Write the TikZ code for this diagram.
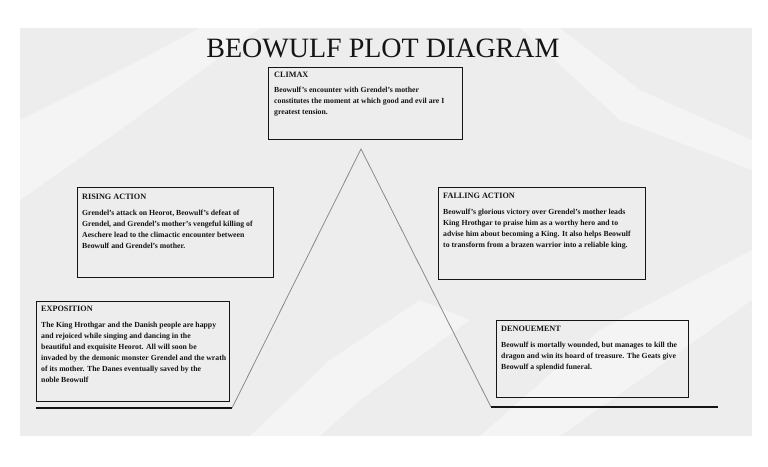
\documentclass[tikz,border=0pt]{standalone}
\usepackage{fontspec}
\setmainfont{Liberation Serif}
\definecolor{paper}{HTML}{EDEDED}
\definecolor{crease}{HTML}{F7F7F7}
\definecolor{inkc}{HTML}{151515}
\definecolor{slope}{HTML}{8A8A8A}
\begin{document}
\begin{tikzpicture}[x=1pt,y=-1pt,
  plotbox/.style={draw=inkc,line width=1.1pt,anchor=north west,inner sep=0pt},
  hdr/.style={anchor=base west,inner sep=0pt,text=inkc,font=\fontsize{8.2}{11}\selectfont\bfseries},
  bodytext/.style={anchor=north west,inner sep=0pt,align=left,text=inkc,font=\fontsize{7.75}{11}\selectfont\bfseries},
  slopeline/.style={draw=slope,line width=0.8pt},
  baseline/.style={draw=inkc,line width=1.1pt},
  creasefill/.style={fill=crease,opacity=0.7}]
\useasboundingbox (0,0) rectangle (768,466);
\fill[white] (0,0) rectangle (768,466);
\fill[paper] (20,28) rectangle (752,436);
% faint paper creases
\fill[creasefill] (20,120) -- (140,60) -- (200,28) -- (260,28) -- (120,130) -- (20,200) -- cycle;
\fill[creasefill] (480,436) -- (600,330) -- (752,250) -- (752,300) -- (640,380) -- (560,436) -- cycle;
\fill[creasefill] (250,436) -- (330,360) -- (420,300) -- (470,320) -- (360,400) -- (320,436) -- cycle;
\fill[creasefill] (560,28) -- (640,90) -- (752,140) -- (752,170) -- (620,120) -- (520,28) -- cycle;
% title
\node[anchor=base,inner sep=0pt,text=inkc,font=\fontsize{28}{30}\selectfont] (title) at (383,57) {BEOWULF PLOT DIAGRAM};
% plot line
\coordinate (l0) at (36,408);
\coordinate (l1) at (232,408);
\coordinate (apex) at (361,149);
\coordinate (r1) at (491,407);
\coordinate (r0) at (718,407);
\draw[slopeline] (l1) -- (apex) -- (r1);
\draw[baseline] (l0) -- (l1);
\draw[baseline] (r1) -- (r0);
% boxes
\node[plotbox,minimum width=194pt,minimum height=72pt] (climax) at (268,67) {};
\node[plotbox,minimum width=196pt,minimum height=90pt] (rising) at (77,187) {};
\node[plotbox,minimum width=207pt,minimum height=92pt] (falling) at (438,187) {};
\node[plotbox,minimum width=193pt,minimum height=100pt] (expo) at (36,301) {};
\node[plotbox,minimum width=192pt,minimum height=77pt] (denou) at (496,320) {};
% headers
\node[hdr] (climaxh) at ([shift={(6,10)}]climax.north west) {CLIMAX};
\node[hdr] (risingh) at ([shift={(5,12)}]rising.north west) {RISING ACTION};
\node[hdr] (fallingh) at ([shift={(5,11)}]falling.north west) {FALLING ACTION};
\node[hdr] (expoh) at ([shift={(5,10)}]expo.north west) {EXPOSITION};
\node[hdr] (denouh) at ([shift={(5,11)}]denou.north west) {DENOUEMENT};
% bodies
\node[bodytext] (climaxb) at ([shift={(6,19)}]climax.north west) {\rule{0pt}{6pt}Beowulf’s encounter with Grendel’s mother\\constitutes the moment at which good and evil are I\\greatest tension.};
\node[bodytext] (risingb) at ([shift={(5,22)}]rising.north west) {\rule{0pt}{6pt}Grendel’s attack on Heorot, Beowulf’s defeat of\\Grendel, and Grendel’s mother’s vengeful killing of\\Aeschere lead to the climactic encounter between\\Beowulf and Grendel’s mother.};
\node[bodytext] (fallingb) at ([shift={(5,21)}]falling.north west) {\rule{0pt}{6pt}Beowulf’s glorious victory over Grendel’s mother leads\\King Hrothgar to praise him as a worthy hero and to\\advise him about becoming a King. It also helps Beowulf\\to transform from a brazen warrior into a reliable king.};
\node[bodytext] (expob) at ([shift={(5,20)}]expo.north west) {\rule{0pt}{6pt}The King Hrothgar and the Danish people are happy\\and rejoiced while singing and dancing in the\\beautiful and exquisite Heorot. All will soon be\\invaded by the demonic monster Grendel and the wrath\\of its mother. The Danes eventually saved by the\\noble Beowulf};
\node[bodytext] (denoub) at ([shift={(5,21)}]denou.north west) {\rule{0pt}{6pt}Beowulf is mortally wounded, but manages to kill the\\dragon and win its hoard of treasure. The Geats give\\Beowulf a splendid funeral.};
\end{tikzpicture}
\end{document}
